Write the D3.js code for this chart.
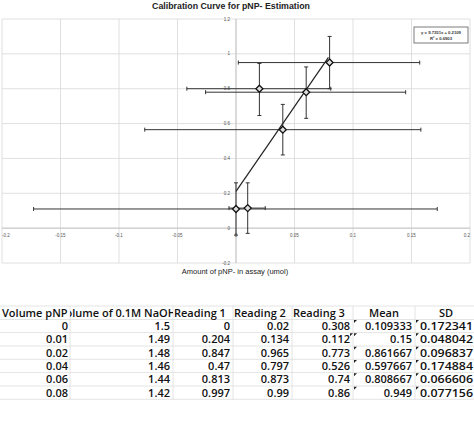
<!DOCTYPE html><html><head><meta charset="utf-8">
<script src="https://cdn.jsdelivr.net/npm/d3@7"></script>
<style>body{margin:0;background:#fff}svg{display:block}</style></head><body>
<script>
const xs=[0,0.01,0.02,0.04,0.06,0.08];
const ys=[0.11,0.115,0.80,0.565,0.78,0.95];
const xLo=[-0.173,-0.006,-0.042,-0.078,-0.026,0.002];
const xHi=[0.172,0.025,0.081,0.158,0.145,0.157];
const yLo=[-0.04,-0.03,0.646,0.42,0.63,0.80];
const yHi=[0.26,0.26,0.945,0.71,0.925,1.10];
const slope=9.7351, intercept=0.2109, fitX=[0,0.079];
const xTicks=[-0.2,-0.15,-0.1,-0.05,0,0.05,0.1,0.15,0.2];
const yTicks=[-0.2,0,0.2,0.4,0.6,0.8,1,1.2];
const headers=["Volume pNP","Volume of 0.1M NaOH","Reading 1","Reading 2","Reading 3","Mean","SD"];
const col1=["0","0.01","0.02","0.04","0.06","0.08"];
const col2=["1.5","1.49","1.48","1.46","1.44","1.42"];
const col3=["0","0.204","0.847","0.47","0.813","0.997"];
const col4=["0.02","0.134","0.965","0.797","0.873","0.99"];
const col5=["0.308","0.112","0.773","0.526","0.74","0.86"];
const col6=["0.109333","0.15","0.861667","0.597667","0.808667","0.949"];
const col7=["0.172341","0.048042","0.096837","0.174884","0.066606","0.077156"];

const W=474,H=435;
const svg=d3.select("body").append("svg").attr("width",W).attr("height",H);
const x=d3.scaleLinear().domain([-0.2,0.2]).range([2,470]);
const y=d3.scaleLinear().domain([-0.2,1.2]).range([263,19]);
const g=svg.append("g");
g.selectAll(".vg").data(xTicks).join("line").attr("x1",d=>x(d)).attr("x2",d=>x(d)).attr("y1",y(1.2)).attr("y2",y(-0.2)).attr("stroke","#d8d8d8").attr("stroke-width",0.8);
g.selectAll(".hg").data(yTicks).join("line").attr("y1",d=>y(d)).attr("y2",d=>y(d)).attr("x1",x(-0.2)).attr("x2",x(0.2)).attr("stroke","#d8d8d8").attr("stroke-width",0.8);
g.append("line").attr("x1",x(-0.2)).attr("x2",x(0.2)).attr("y1",y(0)).attr("y2",y(0)).attr("stroke","#bbb").attr("stroke-width",0.8);
g.append("line").attr("x1",x(0)).attr("x2",x(0)).attr("y1",y(1.2)).attr("y2",y(-0.2)).attr("stroke","#bbb").attr("stroke-width",0.8);
g.selectAll(".xl").data(xTicks).join("text").attr("x",d=>d===-0.2?x(d)+4:d===0.2?x(d)-3:x(d)).attr("y",y(0)+9).attr("text-anchor","middle").attr("font-size",4.5).attr("font-family","Liberation Sans").attr("fill","#555").text(d=>String(d));
g.selectAll(".yl").data(yTicks).join("text").attr("x",x(0)-6).attr("y",d=>y(d)+1.5).attr("text-anchor","end").attr("font-size",4.5).attr("font-family","Liberation Sans").attr("fill","#555").text(d=>String(d));
g.append("line").attr("x1",x(fitX[0])).attr("y1",y(intercept+slope*fitX[0])).attr("x2",x(fitX[1])).attr("y2",y(intercept+slope*fitX[1])).attr("stroke","#222").attr("stroke-width",1.2);
const idx=d3.range(xs.length);
const eb=g.append("g").attr("stroke","#333").attr("stroke-width",1);
eb.selectAll(".hx").data(idx).join("line").attr("x1",i=>x(xLo[i])).attr("x2",i=>x(xHi[i])).attr("y1",i=>y(ys[i])).attr("y2",i=>y(ys[i]));
eb.selectAll(".hc1").data(idx).join("line").attr("x1",i=>x(xLo[i])).attr("x2",i=>x(xLo[i])).attr("y1",i=>y(ys[i])-2).attr("y2",i=>y(ys[i])+2);
eb.selectAll(".hc2").data(idx).join("line").attr("x1",i=>x(xHi[i])).attr("x2",i=>x(xHi[i])).attr("y1",i=>y(ys[i])-2).attr("y2",i=>y(ys[i])+2);
eb.selectAll(".vy").data(idx).join("line").attr("x1",i=>x(xs[i])).attr("x2",i=>x(xs[i])).attr("y1",i=>y(yLo[i])).attr("y2",i=>y(yHi[i]));
eb.selectAll(".vc1").data(idx).join("line").attr("x1",i=>x(xs[i])-2).attr("x2",i=>x(xs[i])+2).attr("y1",i=>y(yLo[i])).attr("y2",i=>y(yLo[i]));
eb.selectAll(".vc2").data(idx).join("line").attr("x1",i=>x(xs[i])-2).attr("x2",i=>x(xs[i])+2).attr("y1",i=>y(yHi[i])).attr("y2",i=>y(yHi[i]));
g.selectAll(".pt").data(idx).join("path").attr("transform",i=>`translate(${x(xs[i])},${y(ys[i])})`).attr("d","M0,-3.5L3.5,0L0,3.5L-3.5,0Z").attr("fill","#ddd").attr("stroke","#111").attr("stroke-width",1.3);
svg.append("text").attr("x",231).attr("y",9).attr("text-anchor","middle").attr("font-family","Liberation Sans").attr("font-weight","bold").attr("font-size",8.8).attr("fill","#222").text("Calibration Curve for pNP-   Estimation");
svg.append("text").attr("x",235).attr("y",274).attr("text-anchor","middle").attr("font-family","Liberation Sans").attr("font-size",7.5).attr("fill","#222").text("Amount of pNP- in assay (umol)");
svg.append("rect").attr("x",414).attr("y",27).attr("width",54).attr("height",16).attr("fill","#fff").attr("stroke","#444").attr("stroke-width",0.7);
svg.append("text").attr("x",441).attr("y",33.5).attr("text-anchor","middle").attr("font-size",4.2).attr("font-family","Liberation Sans").attr("font-weight","bold").attr("fill","#333").text(`y = ${slope}x + ${intercept}`);
svg.append("text").attr("x",441).attr("y",40).attr("text-anchor","middle").attr("font-size",4.2).attr("font-family","Liberation Sans").attr("font-weight","bold").attr("fill","#333").text("R² = 0.6903");
// table
const colR=[70,173,233,292,353,415,474];
const colL=[0,70,173,233,292,353,415];
const headY=313, rowY=[326,339.3,352.7,366,379.3,392.7];
const t=svg.append("g").attr("font-family","Open Sans, Liberation Sans").attr("font-size",11).attr("font-weight",600).attr("fill","#111");
const lines=t.append("g").attr("stroke","#ddd").attr("stroke-width",0.8);
[306,319.5,332.6,346,359.3,372.6,386,399.3].forEach(v=>lines.append("line").attr("x1",0).attr("x2",W).attr("y1",v).attr("y2",v));
colR.slice(0,6).forEach(v=>lines.append("line").attr("x1",v).attr("x2",v).attr("y1",306).attr("y2",399.3));
const defs=svg.append("defs");
headers.forEach((h,i)=>{
  defs.append("clipPath").attr("id","c"+i).append("rect").attr("x",colL[i]).attr("y",300).attr("width",colR[i]-colL[i]).attr("height",20);
});
t.append("text").attr("x",2).attr("y",headY+4).attr("clip-path","url(#c0)").text(headers[0]);
t.append("text").attr("x",176).attr("y",headY+4).attr("text-anchor","end").attr("clip-path","url(#c1)").text(headers[1]);
[2,3,4].forEach(i=>t.append("text").attr("x",colL[i]+1).attr("y",headY+4).attr("clip-path","url(#c"+i+")").text(headers[i]));
t.append("text").attr("x",384).attr("y",headY+4).attr("text-anchor","middle").text(headers[5]);
t.append("text").attr("x",446).attr("y",headY+4).attr("text-anchor","middle").text(headers[6]);
const cols=[col1,col2,col3,col4,col5,col6,col7];
cols.forEach((c,ci)=>{
  t.selectAll(".c"+ci).data(c).join("text").attr("x",ci===0?68:ci===6?473:colR[ci]-3).attr("y",(d,i)=>rowY[i]+4).attr("text-anchor","end").attr("textLength",ci===6?53:null).attr("lengthAdjust","spacingAndGlyphs").text(d=>d);
  if(ci>=5) t.selectAll(".m"+ci).data(c).join("path").attr("transform",(d,i)=>`translate(${colL[ci]+1},${rowY[i]-6})`).attr("d","M0,0L3,0L0,3Z").attr("fill","#222");
});
t.append("path").attr("transform",`translate(${colL[5]-3},${rowY[1]-6})`).attr("d","M0,0L3,0L0,3Z").attr("fill","#222");
</script></body></html>
